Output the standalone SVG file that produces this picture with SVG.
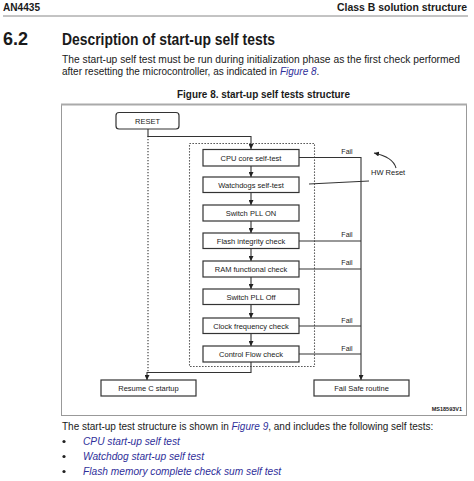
<svg xmlns="http://www.w3.org/2000/svg" width="474" height="481" viewBox="0 0 474 481">
<defs>
<style>
text{font-family:"Liberation Sans",Arial,sans-serif;fill:#1a1a1a}
.b{font-weight:bold}
.lk{fill:#2f2f9a;font-style:italic}
.box{fill:#fff;stroke:#333;stroke-width:1.2}
.bt{font-size:7.5px;text-anchor:middle}
.ln{fill:none;stroke:#333;stroke-width:1.1}
.dot{fill:none;stroke:#333;stroke-width:1.1;stroke-dasharray:1.3 1.7}
.fl{font-size:7px;text-anchor:middle}
</style>
<marker id="ah" viewBox="0 0 8 8" refX="8" refY="4" markerWidth="5" markerHeight="5" orient="auto" markerUnits="userSpaceOnUse">
<path d="M0,0 L8,4 L0,8 Z" fill="#222"/>
</marker>
</defs>
<rect width="474" height="481" fill="#fff"/>

<!-- page header -->
<text x="3" y="11" class="b" font-size="10" textLength="37" lengthAdjust="spacingAndGlyphs">AN4435</text>
<text x="337" y="11" class="b" font-size="10" textLength="130" lengthAdjust="spacingAndGlyphs">Class B solution structure</text>
<line x1="3" y1="16" x2="468" y2="16" stroke="#888" stroke-width="1"/>
<text x="3" y="45" class="b" font-size="18">6.2</text>
<text x="62" y="45" class="b" font-size="16" textLength="213" lengthAdjust="spacingAndGlyphs">Description of start-up self tests</text>
<text x="62" y="63" font-size="10" textLength="398" lengthAdjust="spacingAndGlyphs">The start-up self test must be run during initialization phase as the first check performed</text>
<text x="62" y="75" font-size="10">after resetting the microcontroller, as indicated in <tspan class="lk">Figure 8</tspan>.</text>
<text x="177" y="98" class="b" font-size="10" textLength="173" lengthAdjust="spacingAndGlyphs">Figure 8. start-up self tests structure</text>

<!-- figure frame -->
<rect x="61.5" y="104.5" width="405" height="311" fill="none" stroke="#999" stroke-width="1"/>
<line x1="61" y1="104.5" x2="467" y2="104.5" stroke="#aaa" stroke-width="2"/>

<!-- dotted group rectangle -->
<rect x="189.5" y="143.5" width="125" height="223" class="dot"/>

<!-- connectors -->
<g id="connectors">
<path class="dot" d="M148,136 V372"/>
<path class="ln" d="M148,129 V136.5 H251 V149" marker-end="url(#ah)"/>
<path class="ln" d="M251,166 V177" marker-end="url(#ah)"/>
<path class="ln" d="M251,192 V205" marker-end="url(#ah)"/>
<path class="ln" d="M251,221 V233" marker-end="url(#ah)"/>
<path class="ln" d="M251,248 V261" marker-end="url(#ah)"/>
<path class="ln" d="M251,277 V289" marker-end="url(#ah)"/>
<path class="ln" d="M251,304 V318" marker-end="url(#ah)"/>
<path class="ln" d="M251,333 V346" marker-end="url(#ah)"/>
<path class="ln" d="M251,362 V372.5 H147 V380" marker-end="url(#ah)"/>
<path class="ln" d="M299,157.5 H361 V380" marker-end="url(#ah)"/>
<path class="ln" d="M299,241 H361"/>
<path class="ln" d="M299,269 H361"/>
<path class="ln" d="M299,326 H361"/>
<path class="ln" d="M299,354 H361"/>
<path class="ln" d="M309,184 L369,181"/>
<path class="ln" d="M396,168 Q393,157 374,153" marker-end="url(#ah)"/>
</g>

<!-- fail labels -->
<text x="347" y="154" class="fl">Fail</text>
<text x="347" y="237" class="fl">Fail</text>
<text x="347" y="265" class="fl">Fail</text>
<text x="347" y="323" class="fl">Fail</text>
<text x="347" y="351" class="fl">Fail</text>
<text x="371" y="175" font-size="7.5">HW Reset</text>

<!-- nodes -->
<g id="reset"><rect x="116" y="112.5" width="63" height="16.5" rx="3" class="box"/><text x="147.5" y="123.5" class="bt">RESET</text></g>
<g id="cpu"><rect x="203" y="149.5" width="96" height="16.5" class="box"/><text x="251" y="160.5" class="bt">CPU core self-test</text></g>
<g id="wdg"><rect x="203" y="177" width="96" height="15.5" class="box"/><text x="251" y="187.5" class="bt">Watchdogs  self-test</text></g>
<g id="pllon"><rect x="203" y="205" width="96" height="16" class="box"/><text x="251" y="215.5" class="bt">Switch PLL ON</text></g>
<g id="flash"><rect x="203" y="233" width="96" height="15.5" class="box"/><text x="251" y="243.5" class="bt">Flash integrity check</text></g>
<g id="ram"><rect x="203" y="261" width="96" height="16" class="box"/><text x="251" y="271.5" class="bt">RAM functional check</text></g>
<g id="plloff"><rect x="203" y="289" width="96" height="15.5" class="box"/><text x="251" y="299.5" class="bt">Switch PLL Off</text></g>
<g id="clock"><rect x="203" y="318" width="96" height="15.5" class="box"/><text x="251" y="328.5" class="bt">Clock frequency check</text></g>
<g id="flow"><rect x="203" y="346" width="96" height="16" class="box"/><text x="251" y="356.5" class="bt">Control Flow check</text></g>
<g id="resume"><rect x="101" y="380" width="95" height="16" class="box"/><text x="148.5" y="390.5" class="bt">Resume C startup</text></g>
<g id="failsafe"><rect x="314" y="380" width="95" height="16" class="box"/><text x="361.5" y="390.5" class="bt">Fail Safe routine</text></g>

<text x="462" y="411" class="b" font-size="5.5" text-anchor="end">MS18593V1</text>

<!-- bottom text -->
<text x="62" y="430" font-size="10">The start-up test structure is shown in <tspan class="lk">Figure 9</tspan>, and includes the following self tests:</text>
<circle cx="64" cy="441.5" r="1.6" fill="#222"/>
<circle cx="64" cy="456.5" r="1.6" fill="#222"/>
<circle cx="64" cy="471.5" r="1.6" fill="#222"/>
<text x="83" y="445" font-size="10.2" class="lk">CPU start-up self test</text>
<text x="83" y="460" font-size="10.2" class="lk">Watchdog start-up self test</text>
<text x="83" y="475" font-size="10.2" class="lk">Flash memory complete check sum self test</text>
</svg>
